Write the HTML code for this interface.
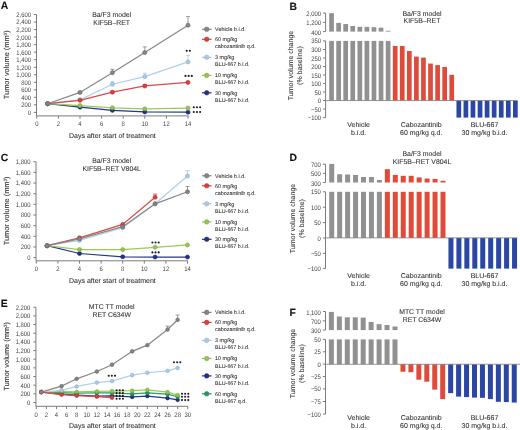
<!DOCTYPE html>
<html><head><meta charset="utf-8"><style>
html,body{margin:0;padding:0;background:#fff;}
svg{display:block;filter:blur(0.35px);}
text{font-family:"Liberation Sans", sans-serif;text-rendering:geometricPrecision;}
</style></head><body>
<svg width="520" height="430" viewBox="0 0 520 430" font-family='"Liberation Sans", sans-serif'>
<rect width="520" height="430" fill="#fff"/>
<line x1="36.50" y1="14.51" x2="36.50" y2="115.90" stroke="#7c7c7c" stroke-width="1.0"/>
<line x1="33.90" y1="112.40" x2="36.50" y2="112.40" stroke="#7c7c7c" stroke-width="1.0"/>
<text transform="translate(31.00,114.80) scale(1,1.12)" font-size="5.9" text-anchor="end" fill="#444444">0</text>
<line x1="33.90" y1="104.87" x2="36.50" y2="104.87" stroke="#7c7c7c" stroke-width="1.0"/>
<text transform="translate(31.00,107.27) scale(1,1.12)" font-size="5.9" text-anchor="end" fill="#444444">200</text>
<line x1="33.90" y1="97.34" x2="36.50" y2="97.34" stroke="#7c7c7c" stroke-width="1.0"/>
<text transform="translate(31.00,99.74) scale(1,1.12)" font-size="5.9" text-anchor="end" fill="#444444">400</text>
<line x1="33.90" y1="89.81" x2="36.50" y2="89.81" stroke="#7c7c7c" stroke-width="1.0"/>
<text transform="translate(31.00,92.21) scale(1,1.12)" font-size="5.9" text-anchor="end" fill="#444444">600</text>
<line x1="33.90" y1="82.28" x2="36.50" y2="82.28" stroke="#7c7c7c" stroke-width="1.0"/>
<text transform="translate(31.00,84.68) scale(1,1.12)" font-size="5.9" text-anchor="end" fill="#444444">800</text>
<line x1="33.90" y1="74.75" x2="36.50" y2="74.75" stroke="#7c7c7c" stroke-width="1.0"/>
<text transform="translate(31.00,77.15) scale(1,1.12)" font-size="5.9" text-anchor="end" fill="#444444">1,000</text>
<line x1="33.90" y1="67.22" x2="36.50" y2="67.22" stroke="#7c7c7c" stroke-width="1.0"/>
<text transform="translate(31.00,69.62) scale(1,1.12)" font-size="5.9" text-anchor="end" fill="#444444">1,200</text>
<line x1="33.90" y1="59.69" x2="36.50" y2="59.69" stroke="#7c7c7c" stroke-width="1.0"/>
<text transform="translate(31.00,62.09) scale(1,1.12)" font-size="5.9" text-anchor="end" fill="#444444">1,400</text>
<line x1="33.90" y1="52.16" x2="36.50" y2="52.16" stroke="#7c7c7c" stroke-width="1.0"/>
<text transform="translate(31.00,54.56) scale(1,1.12)" font-size="5.9" text-anchor="end" fill="#444444">1,600</text>
<line x1="33.90" y1="44.63" x2="36.50" y2="44.63" stroke="#7c7c7c" stroke-width="1.0"/>
<text transform="translate(31.00,47.03) scale(1,1.12)" font-size="5.9" text-anchor="end" fill="#444444">1,800</text>
<line x1="33.90" y1="37.10" x2="36.50" y2="37.10" stroke="#7c7c7c" stroke-width="1.0"/>
<text transform="translate(31.00,39.50) scale(1,1.12)" font-size="5.9" text-anchor="end" fill="#444444">2,000</text>
<line x1="33.90" y1="29.57" x2="36.50" y2="29.57" stroke="#7c7c7c" stroke-width="1.0"/>
<text transform="translate(31.00,31.97) scale(1,1.12)" font-size="5.9" text-anchor="end" fill="#444444">2,200</text>
<line x1="33.90" y1="22.04" x2="36.50" y2="22.04" stroke="#7c7c7c" stroke-width="1.0"/>
<text transform="translate(31.00,24.44) scale(1,1.12)" font-size="5.9" text-anchor="end" fill="#444444">2,400</text>
<line x1="33.90" y1="14.51" x2="36.50" y2="14.51" stroke="#7c7c7c" stroke-width="1.0"/>
<text transform="translate(31.00,16.91) scale(1,1.12)" font-size="5.9" text-anchor="end" fill="#444444">2,600</text>
<line x1="36.50" y1="115.90" x2="188.50" y2="115.90" stroke="#7c7c7c" stroke-width="1.0"/>
<line x1="36.80" y1="115.90" x2="36.80" y2="118.70" stroke="#7c7c7c" stroke-width="1.0"/>
<text transform="translate(36.80,126.30) scale(1,1.12)" font-size="5.9" text-anchor="middle" fill="#444444">0</text>
<line x1="58.40" y1="115.90" x2="58.40" y2="118.70" stroke="#7c7c7c" stroke-width="1.0"/>
<text transform="translate(58.40,126.30) scale(1,1.12)" font-size="5.9" text-anchor="middle" fill="#444444">2</text>
<line x1="80.00" y1="115.90" x2="80.00" y2="118.70" stroke="#7c7c7c" stroke-width="1.0"/>
<text transform="translate(80.00,126.30) scale(1,1.12)" font-size="5.9" text-anchor="middle" fill="#444444">4</text>
<line x1="101.60" y1="115.90" x2="101.60" y2="118.70" stroke="#7c7c7c" stroke-width="1.0"/>
<text transform="translate(101.60,126.30) scale(1,1.12)" font-size="5.9" text-anchor="middle" fill="#444444">6</text>
<line x1="123.20" y1="115.90" x2="123.20" y2="118.70" stroke="#7c7c7c" stroke-width="1.0"/>
<text transform="translate(123.20,126.30) scale(1,1.12)" font-size="5.9" text-anchor="middle" fill="#444444">8</text>
<line x1="144.80" y1="115.90" x2="144.80" y2="118.70" stroke="#7c7c7c" stroke-width="1.0"/>
<text transform="translate(144.80,126.30) scale(1,1.12)" font-size="5.9" text-anchor="middle" fill="#444444">10</text>
<line x1="166.40" y1="115.90" x2="166.40" y2="118.70" stroke="#7c7c7c" stroke-width="1.0"/>
<text transform="translate(166.40,126.30) scale(1,1.12)" font-size="5.9" text-anchor="middle" fill="#444444">12</text>
<line x1="188.00" y1="115.90" x2="188.00" y2="118.70" stroke="#7c7c7c" stroke-width="1.0"/>
<text transform="translate(188.00,126.30) scale(1,1.12)" font-size="5.9" text-anchor="middle" fill="#444444">14</text>
<text x="112.40" y="137.60" font-size="7" text-anchor="middle" font-weight="normal" fill="#333333" stroke="#333333" stroke-width="0.08" >Days after start of treatment</text>
<text transform="translate(9.40,64.81) rotate(-90)" font-size="7.4" text-anchor="middle" fill="#333333" stroke="#333333" stroke-width="0.08">Tumor volume (mm<tspan font-size="4.6" dy="-2.6">3</tspan><tspan dy="2.6">)</tspan></text>
<text x="0.80" y="9.20" font-size="10.4" text-anchor="start" font-weight="bold" fill="#111" stroke="#111" stroke-width="0.08" >A</text>
<text x="111.70" y="17.20" font-size="6.9" text-anchor="middle" font-weight="normal" fill="#333333" stroke="#333333" stroke-width="0.08" >Ba/F3 model</text>
<text x="111.70" y="24.70" font-size="6.9" text-anchor="middle" font-weight="normal" fill="#333333" stroke="#333333" stroke-width="0.08" >KIF5B–RET</text>
<polyline points="47.60,103.74 80.00,107.17 112.40,110.33 144.80,111.95 188.00,112.21" fill="none" stroke="#263690" stroke-width="1.25"/>
<circle cx="47.60" cy="103.74" r="2.05" fill="#22318a" stroke="#1a2670" stroke-width="0.6"/>
<circle cx="80.00" cy="107.17" r="2.05" fill="#22318a" stroke="#1a2670" stroke-width="0.6"/>
<circle cx="112.40" cy="110.33" r="2.05" fill="#22318a" stroke="#1a2670" stroke-width="0.6"/>
<circle cx="144.80" cy="111.95" r="2.05" fill="#22318a" stroke="#1a2670" stroke-width="0.6"/>
<circle cx="188.00" cy="112.21" r="2.05" fill="#22318a" stroke="#1a2670" stroke-width="0.6"/>
<polyline points="47.60,103.74 80.00,105.59 112.40,107.77 144.80,108.82 188.00,108.07" fill="none" stroke="#9acb55" stroke-width="1.25"/>
<circle cx="47.60" cy="103.74" r="2.05" fill="#95c453" stroke="#7aa840" stroke-width="0.6"/>
<circle cx="80.00" cy="105.59" r="2.05" fill="#95c453" stroke="#7aa840" stroke-width="0.6"/>
<circle cx="112.40" cy="107.77" r="2.05" fill="#95c453" stroke="#7aa840" stroke-width="0.6"/>
<circle cx="144.80" cy="108.82" r="2.05" fill="#95c453" stroke="#7aa840" stroke-width="0.6"/>
<circle cx="188.00" cy="108.07" r="2.05" fill="#95c453" stroke="#7aa840" stroke-width="0.6"/>
<polyline points="47.60,103.74 80.00,99.79 112.40,84.24 144.80,76.63 188.00,61.95" fill="none" stroke="#b2cfea" stroke-width="1.25"/>
<line x1="112.40" y1="84.24" x2="112.40" y2="81.60" stroke="#a9c8e6" stroke-width="0.8"/>
<line x1="110.40" y1="81.60" x2="114.40" y2="81.60" stroke="#a9c8e6" stroke-width="0.8"/>
<line x1="144.80" y1="76.63" x2="144.80" y2="73.24" stroke="#a9c8e6" stroke-width="0.8"/>
<line x1="142.80" y1="73.24" x2="146.80" y2="73.24" stroke="#a9c8e6" stroke-width="0.8"/>
<line x1="188.00" y1="61.95" x2="188.00" y2="55.55" stroke="#a9c8e6" stroke-width="0.8"/>
<line x1="186.00" y1="55.55" x2="190.00" y2="55.55" stroke="#a9c8e6" stroke-width="0.8"/>
<circle cx="47.60" cy="103.74" r="2.05" fill="#a9c8e6" stroke="#8fb0d0" stroke-width="0.6"/>
<circle cx="80.00" cy="99.79" r="2.05" fill="#a9c8e6" stroke="#8fb0d0" stroke-width="0.6"/>
<circle cx="112.40" cy="84.24" r="2.05" fill="#a9c8e6" stroke="#8fb0d0" stroke-width="0.6"/>
<circle cx="144.80" cy="76.63" r="2.05" fill="#a9c8e6" stroke="#8fb0d0" stroke-width="0.6"/>
<circle cx="188.00" cy="61.95" r="2.05" fill="#a9c8e6" stroke="#8fb0d0" stroke-width="0.6"/>
<polyline points="47.60,103.74 80.00,100.28 112.40,92.22 144.80,85.97 188.00,82.47" fill="none" stroke="#dc4a45" stroke-width="1.25"/>
<line x1="112.40" y1="92.22" x2="112.40" y2="91.09" stroke="#d8403a" stroke-width="0.8"/>
<line x1="110.40" y1="91.09" x2="114.40" y2="91.09" stroke="#d8403a" stroke-width="0.8"/>
<line x1="144.80" y1="85.97" x2="144.80" y2="84.46" stroke="#d8403a" stroke-width="0.8"/>
<line x1="142.80" y1="84.46" x2="146.80" y2="84.46" stroke="#d8403a" stroke-width="0.8"/>
<line x1="188.00" y1="82.47" x2="188.00" y2="81.34" stroke="#d8403a" stroke-width="0.8"/>
<line x1="186.00" y1="81.34" x2="190.00" y2="81.34" stroke="#d8403a" stroke-width="0.8"/>
<circle cx="47.60" cy="103.74" r="2.05" fill="#d8403a" stroke="#b83030" stroke-width="0.6"/>
<circle cx="80.00" cy="100.28" r="2.05" fill="#d8403a" stroke="#b83030" stroke-width="0.6"/>
<circle cx="112.40" cy="92.22" r="2.05" fill="#d8403a" stroke="#b83030" stroke-width="0.6"/>
<circle cx="144.80" cy="85.97" r="2.05" fill="#d8403a" stroke="#b83030" stroke-width="0.6"/>
<circle cx="188.00" cy="82.47" r="2.05" fill="#d8403a" stroke="#b83030" stroke-width="0.6"/>
<polyline points="47.60,103.74 80.00,92.45 112.40,72.68 144.80,52.54 188.00,25.24" fill="none" stroke="#888888" stroke-width="1.25"/>
<line x1="80.00" y1="92.45" x2="80.00" y2="91.32" stroke="#858585" stroke-width="0.8"/>
<line x1="78.00" y1="91.32" x2="82.00" y2="91.32" stroke="#858585" stroke-width="0.8"/>
<line x1="112.40" y1="72.68" x2="112.40" y2="69.29" stroke="#858585" stroke-width="0.8"/>
<line x1="110.40" y1="69.29" x2="114.40" y2="69.29" stroke="#858585" stroke-width="0.8"/>
<line x1="144.80" y1="52.54" x2="144.80" y2="46.89" stroke="#858585" stroke-width="0.8"/>
<line x1="142.80" y1="46.89" x2="146.80" y2="46.89" stroke="#858585" stroke-width="0.8"/>
<line x1="188.00" y1="25.24" x2="188.00" y2="16.58" stroke="#858585" stroke-width="0.8"/>
<line x1="186.00" y1="16.58" x2="190.00" y2="16.58" stroke="#858585" stroke-width="0.8"/>
<circle cx="47.60" cy="103.74" r="2.05" fill="#858585" stroke="#666666" stroke-width="0.6"/>
<circle cx="80.00" cy="92.45" r="2.05" fill="#858585" stroke="#666666" stroke-width="0.6"/>
<circle cx="112.40" cy="72.68" r="2.05" fill="#858585" stroke="#666666" stroke-width="0.6"/>
<circle cx="144.80" cy="52.54" r="2.05" fill="#858585" stroke="#666666" stroke-width="0.6"/>
<circle cx="188.00" cy="25.24" r="2.05" fill="#858585" stroke="#666666" stroke-width="0.6"/>
<line x1="201.90" y1="29.30" x2="211.60" y2="29.30" stroke="#858585" stroke-width="1.2"/>
<circle cx="206.7" cy="29.30" r="2.3" fill="#858585" stroke="#666666" stroke-width="0.5"/>
<text x="215.10" y="31.10" font-size="5.4" text-anchor="start" font-weight="normal" fill="#333333" stroke="#333333" stroke-width="0.08" >Vehicle b.i.d.</text>
<line x1="201.90" y1="39.30" x2="211.60" y2="39.30" stroke="#d8403a" stroke-width="1.2"/>
<circle cx="206.7" cy="39.30" r="2.3" fill="#d8403a" stroke="#b83030" stroke-width="0.5"/>
<text x="215.10" y="41.10" font-size="5.4" text-anchor="start" font-weight="normal" fill="#333333" stroke="#333333" stroke-width="0.08" >60 mg/kg</text>
<text x="215.10" y="48.30" font-size="5.4" text-anchor="start" font-weight="normal" fill="#333333" stroke="#333333" stroke-width="0.08" >cabozantinib q.d.</text>
<line x1="201.90" y1="57.30" x2="211.60" y2="57.30" stroke="#a9c8e6" stroke-width="1.2"/>
<circle cx="206.7" cy="57.30" r="2.3" fill="#a9c8e6" stroke="#8fb0d0" stroke-width="0.5"/>
<text x="215.10" y="59.10" font-size="5.4" text-anchor="start" font-weight="normal" fill="#333333" stroke="#333333" stroke-width="0.08" >3 mg/kg</text>
<text x="215.10" y="66.30" font-size="5.4" text-anchor="start" font-weight="normal" fill="#333333" stroke="#333333" stroke-width="0.08" >BLU-667 b.i.d.</text>
<line x1="201.90" y1="75.40" x2="211.60" y2="75.40" stroke="#95c453" stroke-width="1.2"/>
<circle cx="206.7" cy="75.40" r="2.3" fill="#95c453" stroke="#7aa840" stroke-width="0.5"/>
<text x="215.10" y="77.20" font-size="5.4" text-anchor="start" font-weight="normal" fill="#333333" stroke="#333333" stroke-width="0.08" >10 mg/kg</text>
<text x="215.10" y="84.40" font-size="5.4" text-anchor="start" font-weight="normal" fill="#333333" stroke="#333333" stroke-width="0.08" >BLU-667 b.i.d.</text>
<line x1="201.90" y1="92.80" x2="211.60" y2="92.80" stroke="#22318a" stroke-width="1.2"/>
<circle cx="206.7" cy="92.80" r="2.3" fill="#22318a" stroke="#1a2670" stroke-width="0.5"/>
<text x="215.10" y="94.60" font-size="5.4" text-anchor="start" font-weight="normal" fill="#333333" stroke="#333333" stroke-width="0.08" >30 mg/kg</text>
<text x="215.10" y="101.80" font-size="5.4" text-anchor="start" font-weight="normal" fill="#333333" stroke="#333333" stroke-width="0.08" >BLU-667 b.i.d.</text>
<circle cx="186.70" cy="50.80" r="1.05" fill="#1a1a1a"/>
<circle cx="189.85" cy="50.80" r="1.05" fill="#1a1a1a"/>
<circle cx="185.50" cy="75.90" r="1.05" fill="#1a1a1a"/>
<circle cx="188.65" cy="75.90" r="1.05" fill="#1a1a1a"/>
<circle cx="191.80" cy="75.90" r="1.05" fill="#1a1a1a"/>
<circle cx="193.80" cy="107.30" r="1.05" fill="#1a1a1a"/>
<circle cx="196.95" cy="107.30" r="1.05" fill="#1a1a1a"/>
<circle cx="200.10" cy="107.30" r="1.05" fill="#1a1a1a"/>
<circle cx="193.80" cy="112.00" r="1.05" fill="#1a1a1a"/>
<circle cx="196.95" cy="112.00" r="1.05" fill="#1a1a1a"/>
<circle cx="200.10" cy="112.00" r="1.05" fill="#1a1a1a"/>
<line x1="36.00" y1="161.75" x2="36.00" y2="260.80" stroke="#7c7c7c" stroke-width="1.0"/>
<line x1="33.40" y1="257.60" x2="36.00" y2="257.60" stroke="#7c7c7c" stroke-width="1.0"/>
<text transform="translate(30.50,260.00) scale(1,1.12)" font-size="5.9" text-anchor="end" fill="#444444">0</text>
<line x1="33.40" y1="246.95" x2="36.00" y2="246.95" stroke="#7c7c7c" stroke-width="1.0"/>
<text transform="translate(30.50,249.35) scale(1,1.12)" font-size="5.9" text-anchor="end" fill="#444444">200</text>
<line x1="33.40" y1="236.30" x2="36.00" y2="236.30" stroke="#7c7c7c" stroke-width="1.0"/>
<text transform="translate(30.50,238.70) scale(1,1.12)" font-size="5.9" text-anchor="end" fill="#444444">400</text>
<line x1="33.40" y1="225.65" x2="36.00" y2="225.65" stroke="#7c7c7c" stroke-width="1.0"/>
<text transform="translate(30.50,228.05) scale(1,1.12)" font-size="5.9" text-anchor="end" fill="#444444">600</text>
<line x1="33.40" y1="215.00" x2="36.00" y2="215.00" stroke="#7c7c7c" stroke-width="1.0"/>
<text transform="translate(30.50,217.40) scale(1,1.12)" font-size="5.9" text-anchor="end" fill="#444444">800</text>
<line x1="33.40" y1="204.35" x2="36.00" y2="204.35" stroke="#7c7c7c" stroke-width="1.0"/>
<text transform="translate(30.50,206.75) scale(1,1.12)" font-size="5.9" text-anchor="end" fill="#444444">1,000</text>
<line x1="33.40" y1="193.70" x2="36.00" y2="193.70" stroke="#7c7c7c" stroke-width="1.0"/>
<text transform="translate(30.50,196.10) scale(1,1.12)" font-size="5.9" text-anchor="end" fill="#444444">1,200</text>
<line x1="33.40" y1="183.05" x2="36.00" y2="183.05" stroke="#7c7c7c" stroke-width="1.0"/>
<text transform="translate(30.50,185.45) scale(1,1.12)" font-size="5.9" text-anchor="end" fill="#444444">1,400</text>
<line x1="33.40" y1="172.40" x2="36.00" y2="172.40" stroke="#7c7c7c" stroke-width="1.0"/>
<text transform="translate(30.50,174.80) scale(1,1.12)" font-size="5.9" text-anchor="end" fill="#444444">1,600</text>
<line x1="33.40" y1="161.75" x2="36.00" y2="161.75" stroke="#7c7c7c" stroke-width="1.0"/>
<text transform="translate(30.50,164.15) scale(1,1.12)" font-size="5.9" text-anchor="end" fill="#444444">1,800</text>
<line x1="36.00" y1="260.80" x2="188.00" y2="260.80" stroke="#7c7c7c" stroke-width="1.0"/>
<line x1="36.30" y1="260.80" x2="36.30" y2="263.60" stroke="#7c7c7c" stroke-width="1.0"/>
<text transform="translate(36.30,270.90) scale(1,1.12)" font-size="5.9" text-anchor="middle" fill="#444444">0</text>
<line x1="57.90" y1="260.80" x2="57.90" y2="263.60" stroke="#7c7c7c" stroke-width="1.0"/>
<text transform="translate(57.90,270.90) scale(1,1.12)" font-size="5.9" text-anchor="middle" fill="#444444">2</text>
<line x1="79.50" y1="260.80" x2="79.50" y2="263.60" stroke="#7c7c7c" stroke-width="1.0"/>
<text transform="translate(79.50,270.90) scale(1,1.12)" font-size="5.9" text-anchor="middle" fill="#444444">4</text>
<line x1="101.10" y1="260.80" x2="101.10" y2="263.60" stroke="#7c7c7c" stroke-width="1.0"/>
<text transform="translate(101.10,270.90) scale(1,1.12)" font-size="5.9" text-anchor="middle" fill="#444444">6</text>
<line x1="122.70" y1="260.80" x2="122.70" y2="263.60" stroke="#7c7c7c" stroke-width="1.0"/>
<text transform="translate(122.70,270.90) scale(1,1.12)" font-size="5.9" text-anchor="middle" fill="#444444">8</text>
<line x1="144.30" y1="260.80" x2="144.30" y2="263.60" stroke="#7c7c7c" stroke-width="1.0"/>
<text transform="translate(144.30,270.90) scale(1,1.12)" font-size="5.9" text-anchor="middle" fill="#444444">10</text>
<line x1="165.90" y1="260.80" x2="165.90" y2="263.60" stroke="#7c7c7c" stroke-width="1.0"/>
<text transform="translate(165.90,270.90) scale(1,1.12)" font-size="5.9" text-anchor="middle" fill="#444444">12</text>
<line x1="187.50" y1="260.80" x2="187.50" y2="263.60" stroke="#7c7c7c" stroke-width="1.0"/>
<text transform="translate(187.50,270.90) scale(1,1.12)" font-size="5.9" text-anchor="middle" fill="#444444">14</text>
<text x="112.40" y="283.00" font-size="7" text-anchor="middle" font-weight="normal" fill="#333333" stroke="#333333" stroke-width="0.08" >Days after start of treatment</text>
<text transform="translate(9.40,210.88) rotate(-90)" font-size="7.4" text-anchor="middle" fill="#333333" stroke="#333333" stroke-width="0.08">Tumor volume (mm<tspan font-size="4.6" dy="-2.6">3</tspan><tspan dy="2.6">)</tspan></text>
<text x="0.80" y="161.20" font-size="10.4" text-anchor="start" font-weight="bold" fill="#111" stroke="#111" stroke-width="0.08" >C</text>
<text x="111.70" y="163.20" font-size="6.9" text-anchor="middle" font-weight="normal" fill="#333333" stroke="#333333" stroke-width="0.08" >Ba/F3 model</text>
<text x="111.70" y="171.00" font-size="6.9" text-anchor="middle" font-weight="normal" fill="#333333" stroke="#333333" stroke-width="0.08" >KIF5B–RET V804L</text>
<polyline points="47.10,245.73 79.50,253.50 122.70,256.80 155.10,257.07 187.50,257.07" fill="none" stroke="#263690" stroke-width="1.25"/>
<circle cx="47.10" cy="245.73" r="2.05" fill="#22318a" stroke="#1a2670" stroke-width="0.6"/>
<circle cx="79.50" cy="253.50" r="2.05" fill="#22318a" stroke="#1a2670" stroke-width="0.6"/>
<circle cx="122.70" cy="256.80" r="2.05" fill="#22318a" stroke="#1a2670" stroke-width="0.6"/>
<circle cx="155.10" cy="257.07" r="2.05" fill="#22318a" stroke="#1a2670" stroke-width="0.6"/>
<circle cx="187.50" cy="257.07" r="2.05" fill="#22318a" stroke="#1a2670" stroke-width="0.6"/>
<polyline points="47.10,245.73 79.50,249.61 122.70,249.61 155.10,247.32 187.50,244.98" fill="none" stroke="#9acb55" stroke-width="1.25"/>
<circle cx="47.10" cy="245.73" r="2.05" fill="#95c453" stroke="#7aa840" stroke-width="0.6"/>
<circle cx="79.50" cy="249.61" r="2.05" fill="#95c453" stroke="#7aa840" stroke-width="0.6"/>
<circle cx="122.70" cy="249.61" r="2.05" fill="#95c453" stroke="#7aa840" stroke-width="0.6"/>
<circle cx="155.10" cy="247.32" r="2.05" fill="#95c453" stroke="#7aa840" stroke-width="0.6"/>
<circle cx="187.50" cy="244.98" r="2.05" fill="#95c453" stroke="#7aa840" stroke-width="0.6"/>
<polyline points="47.10,245.73 79.50,240.40 122.70,227.73 155.10,203.82 187.50,176.02" fill="none" stroke="#b2cfea" stroke-width="1.25"/>
<line x1="187.50" y1="176.02" x2="187.50" y2="170.70" stroke="#a9c8e6" stroke-width="0.8"/>
<line x1="185.50" y1="170.70" x2="189.50" y2="170.70" stroke="#a9c8e6" stroke-width="0.8"/>
<circle cx="47.10" cy="245.73" r="2.05" fill="#a9c8e6" stroke="#8fb0d0" stroke-width="0.6"/>
<circle cx="79.50" cy="240.40" r="2.05" fill="#a9c8e6" stroke="#8fb0d0" stroke-width="0.6"/>
<circle cx="122.70" cy="227.73" r="2.05" fill="#a9c8e6" stroke="#8fb0d0" stroke-width="0.6"/>
<circle cx="155.10" cy="203.82" r="2.05" fill="#a9c8e6" stroke="#8fb0d0" stroke-width="0.6"/>
<circle cx="187.50" cy="176.02" r="2.05" fill="#a9c8e6" stroke="#8fb0d0" stroke-width="0.6"/>
<polyline points="47.10,245.73 79.50,237.79 122.70,224.43 155.10,197.32" fill="none" stroke="#dc4a45" stroke-width="1.25"/>
<line x1="155.10" y1="197.32" x2="155.10" y2="194.13" stroke="#d8403a" stroke-width="0.8"/>
<line x1="153.10" y1="194.13" x2="157.10" y2="194.13" stroke="#d8403a" stroke-width="0.8"/>
<circle cx="47.10" cy="245.73" r="2.05" fill="#d8403a" stroke="#b83030" stroke-width="0.6"/>
<circle cx="79.50" cy="237.79" r="2.05" fill="#d8403a" stroke="#b83030" stroke-width="0.6"/>
<circle cx="122.70" cy="224.43" r="2.05" fill="#d8403a" stroke="#b83030" stroke-width="0.6"/>
<circle cx="155.10" cy="197.32" r="2.05" fill="#d8403a" stroke="#b83030" stroke-width="0.6"/>
<polyline points="47.10,245.73 79.50,238.80 122.70,226.72 155.10,203.82 187.50,191.78" fill="none" stroke="#888888" stroke-width="1.25"/>
<line x1="187.50" y1="191.78" x2="187.50" y2="186.46" stroke="#858585" stroke-width="0.8"/>
<line x1="185.50" y1="186.46" x2="189.50" y2="186.46" stroke="#858585" stroke-width="0.8"/>
<circle cx="47.10" cy="245.73" r="2.05" fill="#858585" stroke="#666666" stroke-width="0.6"/>
<circle cx="79.50" cy="238.80" r="2.05" fill="#858585" stroke="#666666" stroke-width="0.6"/>
<circle cx="122.70" cy="226.72" r="2.05" fill="#858585" stroke="#666666" stroke-width="0.6"/>
<circle cx="155.10" cy="203.82" r="2.05" fill="#858585" stroke="#666666" stroke-width="0.6"/>
<circle cx="187.50" cy="191.78" r="2.05" fill="#858585" stroke="#666666" stroke-width="0.6"/>
<line x1="201.90" y1="175.80" x2="211.60" y2="175.80" stroke="#858585" stroke-width="1.2"/>
<circle cx="206.7" cy="175.80" r="2.3" fill="#858585" stroke="#666666" stroke-width="0.5"/>
<text x="215.10" y="177.60" font-size="5.4" text-anchor="start" font-weight="normal" fill="#333333" stroke="#333333" stroke-width="0.08" >Vehicle b.i.d.</text>
<line x1="201.90" y1="185.80" x2="211.60" y2="185.80" stroke="#d8403a" stroke-width="1.2"/>
<circle cx="206.7" cy="185.80" r="2.3" fill="#d8403a" stroke="#b83030" stroke-width="0.5"/>
<text x="215.10" y="187.60" font-size="5.4" text-anchor="start" font-weight="normal" fill="#333333" stroke="#333333" stroke-width="0.08" >60 mg/kg</text>
<text x="215.10" y="194.80" font-size="5.4" text-anchor="start" font-weight="normal" fill="#333333" stroke="#333333" stroke-width="0.08" >cabozantinib q.d.</text>
<line x1="201.90" y1="203.80" x2="211.60" y2="203.80" stroke="#a9c8e6" stroke-width="1.2"/>
<circle cx="206.7" cy="203.80" r="2.3" fill="#a9c8e6" stroke="#8fb0d0" stroke-width="0.5"/>
<text x="215.10" y="205.60" font-size="5.4" text-anchor="start" font-weight="normal" fill="#333333" stroke="#333333" stroke-width="0.08" >3 mg/kg</text>
<text x="215.10" y="212.80" font-size="5.4" text-anchor="start" font-weight="normal" fill="#333333" stroke="#333333" stroke-width="0.08" >BLU-667 b.i.d.</text>
<line x1="201.90" y1="221.90" x2="211.60" y2="221.90" stroke="#95c453" stroke-width="1.2"/>
<circle cx="206.7" cy="221.90" r="2.3" fill="#95c453" stroke="#7aa840" stroke-width="0.5"/>
<text x="215.10" y="223.70" font-size="5.4" text-anchor="start" font-weight="normal" fill="#333333" stroke="#333333" stroke-width="0.08" >10 mg/kg</text>
<text x="215.10" y="230.90" font-size="5.4" text-anchor="start" font-weight="normal" fill="#333333" stroke="#333333" stroke-width="0.08" >BLU-667 b.i.d.</text>
<line x1="201.90" y1="239.30" x2="211.60" y2="239.30" stroke="#22318a" stroke-width="1.2"/>
<circle cx="206.7" cy="239.30" r="2.3" fill="#22318a" stroke="#1a2670" stroke-width="0.5"/>
<text x="215.10" y="241.10" font-size="5.4" text-anchor="start" font-weight="normal" fill="#333333" stroke="#333333" stroke-width="0.08" >30 mg/kg</text>
<text x="215.10" y="248.30" font-size="5.4" text-anchor="start" font-weight="normal" fill="#333333" stroke="#333333" stroke-width="0.08" >BLU-667 b.i.d.</text>
<circle cx="152.40" cy="242.50" r="1.05" fill="#1a1a1a"/>
<circle cx="155.55" cy="242.50" r="1.05" fill="#1a1a1a"/>
<circle cx="158.70" cy="242.50" r="1.05" fill="#1a1a1a"/>
<circle cx="152.40" cy="252.40" r="1.05" fill="#1a1a1a"/>
<circle cx="155.55" cy="252.40" r="1.05" fill="#1a1a1a"/>
<circle cx="158.70" cy="252.40" r="1.05" fill="#1a1a1a"/>
<line x1="35.90" y1="307.24" x2="35.90" y2="406.30" stroke="#7c7c7c" stroke-width="1.0"/>
<line x1="33.30" y1="402.50" x2="35.90" y2="402.50" stroke="#7c7c7c" stroke-width="1.0"/>
<text transform="translate(30.40,404.90) scale(1,1.12)" font-size="5.9" text-anchor="end" fill="#444444">0</text>
<line x1="33.30" y1="393.84" x2="35.90" y2="393.84" stroke="#7c7c7c" stroke-width="1.0"/>
<text transform="translate(30.40,396.24) scale(1,1.12)" font-size="5.9" text-anchor="end" fill="#444444">200</text>
<line x1="33.30" y1="385.18" x2="35.90" y2="385.18" stroke="#7c7c7c" stroke-width="1.0"/>
<text transform="translate(30.40,387.58) scale(1,1.12)" font-size="5.9" text-anchor="end" fill="#444444">400</text>
<line x1="33.30" y1="376.52" x2="35.90" y2="376.52" stroke="#7c7c7c" stroke-width="1.0"/>
<text transform="translate(30.40,378.92) scale(1,1.12)" font-size="5.9" text-anchor="end" fill="#444444">600</text>
<line x1="33.30" y1="367.86" x2="35.90" y2="367.86" stroke="#7c7c7c" stroke-width="1.0"/>
<text transform="translate(30.40,370.26) scale(1,1.12)" font-size="5.9" text-anchor="end" fill="#444444">800</text>
<line x1="33.30" y1="359.20" x2="35.90" y2="359.20" stroke="#7c7c7c" stroke-width="1.0"/>
<text transform="translate(30.40,361.60) scale(1,1.12)" font-size="5.9" text-anchor="end" fill="#444444">1,000</text>
<line x1="33.30" y1="350.54" x2="35.90" y2="350.54" stroke="#7c7c7c" stroke-width="1.0"/>
<text transform="translate(30.40,352.94) scale(1,1.12)" font-size="5.9" text-anchor="end" fill="#444444">1,200</text>
<line x1="33.30" y1="341.88" x2="35.90" y2="341.88" stroke="#7c7c7c" stroke-width="1.0"/>
<text transform="translate(30.40,344.28) scale(1,1.12)" font-size="5.9" text-anchor="end" fill="#444444">1,400</text>
<line x1="33.30" y1="333.22" x2="35.90" y2="333.22" stroke="#7c7c7c" stroke-width="1.0"/>
<text transform="translate(30.40,335.62) scale(1,1.12)" font-size="5.9" text-anchor="end" fill="#444444">1,600</text>
<line x1="33.30" y1="324.56" x2="35.90" y2="324.56" stroke="#7c7c7c" stroke-width="1.0"/>
<text transform="translate(30.40,326.96) scale(1,1.12)" font-size="5.9" text-anchor="end" fill="#444444">1,800</text>
<line x1="33.30" y1="315.90" x2="35.90" y2="315.90" stroke="#7c7c7c" stroke-width="1.0"/>
<text transform="translate(30.40,318.30) scale(1,1.12)" font-size="5.9" text-anchor="end" fill="#444444">2,000</text>
<line x1="33.30" y1="307.24" x2="35.90" y2="307.24" stroke="#7c7c7c" stroke-width="1.0"/>
<text transform="translate(30.40,309.64) scale(1,1.12)" font-size="5.9" text-anchor="end" fill="#444444">2,200</text>
<line x1="35.90" y1="406.30" x2="188.25" y2="406.30" stroke="#7c7c7c" stroke-width="1.0"/>
<line x1="36.25" y1="406.30" x2="36.25" y2="409.10" stroke="#7c7c7c" stroke-width="1.0"/>
<text transform="translate(36.25,417.30) scale(1,1.12)" font-size="5.9" text-anchor="middle" fill="#444444">0</text>
<line x1="46.35" y1="406.30" x2="46.35" y2="409.10" stroke="#7c7c7c" stroke-width="1.0"/>
<text transform="translate(46.35,417.30) scale(1,1.12)" font-size="5.9" text-anchor="middle" fill="#444444">2</text>
<line x1="56.45" y1="406.30" x2="56.45" y2="409.10" stroke="#7c7c7c" stroke-width="1.0"/>
<text transform="translate(56.45,417.30) scale(1,1.12)" font-size="5.9" text-anchor="middle" fill="#444444">4</text>
<line x1="66.55" y1="406.30" x2="66.55" y2="409.10" stroke="#7c7c7c" stroke-width="1.0"/>
<text transform="translate(66.55,417.30) scale(1,1.12)" font-size="5.9" text-anchor="middle" fill="#444444">6</text>
<line x1="76.65" y1="406.30" x2="76.65" y2="409.10" stroke="#7c7c7c" stroke-width="1.0"/>
<text transform="translate(76.65,417.30) scale(1,1.12)" font-size="5.9" text-anchor="middle" fill="#444444">8</text>
<line x1="86.75" y1="406.30" x2="86.75" y2="409.10" stroke="#7c7c7c" stroke-width="1.0"/>
<text transform="translate(86.75,417.30) scale(1,1.12)" font-size="5.9" text-anchor="middle" fill="#444444">10</text>
<line x1="96.85" y1="406.30" x2="96.85" y2="409.10" stroke="#7c7c7c" stroke-width="1.0"/>
<text transform="translate(96.85,417.30) scale(1,1.12)" font-size="5.9" text-anchor="middle" fill="#444444">12</text>
<line x1="106.95" y1="406.30" x2="106.95" y2="409.10" stroke="#7c7c7c" stroke-width="1.0"/>
<text transform="translate(106.95,417.30) scale(1,1.12)" font-size="5.9" text-anchor="middle" fill="#444444">14</text>
<line x1="117.05" y1="406.30" x2="117.05" y2="409.10" stroke="#7c7c7c" stroke-width="1.0"/>
<text transform="translate(117.05,417.30) scale(1,1.12)" font-size="5.9" text-anchor="middle" fill="#444444">16</text>
<line x1="127.15" y1="406.30" x2="127.15" y2="409.10" stroke="#7c7c7c" stroke-width="1.0"/>
<text transform="translate(127.15,417.30) scale(1,1.12)" font-size="5.9" text-anchor="middle" fill="#444444">18</text>
<line x1="137.25" y1="406.30" x2="137.25" y2="409.10" stroke="#7c7c7c" stroke-width="1.0"/>
<text transform="translate(137.25,417.30) scale(1,1.12)" font-size="5.9" text-anchor="middle" fill="#444444">20</text>
<line x1="147.35" y1="406.30" x2="147.35" y2="409.10" stroke="#7c7c7c" stroke-width="1.0"/>
<text transform="translate(147.35,417.30) scale(1,1.12)" font-size="5.9" text-anchor="middle" fill="#444444">22</text>
<line x1="157.45" y1="406.30" x2="157.45" y2="409.10" stroke="#7c7c7c" stroke-width="1.0"/>
<text transform="translate(157.45,417.30) scale(1,1.12)" font-size="5.9" text-anchor="middle" fill="#444444">24</text>
<line x1="167.55" y1="406.30" x2="167.55" y2="409.10" stroke="#7c7c7c" stroke-width="1.0"/>
<text transform="translate(167.55,417.30) scale(1,1.12)" font-size="5.9" text-anchor="middle" fill="#444444">26</text>
<line x1="177.65" y1="406.30" x2="177.65" y2="409.10" stroke="#7c7c7c" stroke-width="1.0"/>
<text transform="translate(177.65,417.30) scale(1,1.12)" font-size="5.9" text-anchor="middle" fill="#444444">28</text>
<line x1="187.75" y1="406.30" x2="187.75" y2="409.10" stroke="#7c7c7c" stroke-width="1.0"/>
<text transform="translate(187.75,417.30) scale(1,1.12)" font-size="5.9" text-anchor="middle" fill="#444444">30</text>
<text x="112.40" y="428.20" font-size="7" text-anchor="middle" font-weight="normal" fill="#333333" stroke="#333333" stroke-width="0.08" >Days after start of treatment</text>
<text transform="translate(9.40,356.37) rotate(-90)" font-size="7.4" text-anchor="middle" fill="#333333" stroke="#333333" stroke-width="0.08">Tumor volume (mm<tspan font-size="4.6" dy="-2.6">3</tspan><tspan dy="2.6">)</tspan></text>
<text x="0.80" y="306.80" font-size="10.4" text-anchor="start" font-weight="bold" fill="#111" stroke="#111" stroke-width="0.08" >E</text>
<text x="111.70" y="308.60" font-size="6.9" text-anchor="middle" font-weight="normal" fill="#333333" stroke="#333333" stroke-width="0.08" >MTC TT model</text>
<text x="111.70" y="316.60" font-size="6.9" text-anchor="middle" font-weight="normal" fill="#333333" stroke="#333333" stroke-width="0.08" >RET C634W</text>
<polyline points="41.30,392.06 61.50,394.06 76.65,395.14 96.85,396.22 112.00,396.00 132.20,396.91 147.35,396.05 167.55,398.13 177.65,399.82" fill="none" stroke="#263690" stroke-width="1.25"/>
<circle cx="41.30" cy="392.06" r="1.85" fill="#22318a" stroke="#1a2670" stroke-width="0.6"/>
<circle cx="61.50" cy="394.06" r="1.85" fill="#22318a" stroke="#1a2670" stroke-width="0.6"/>
<circle cx="76.65" cy="395.14" r="1.85" fill="#22318a" stroke="#1a2670" stroke-width="0.6"/>
<circle cx="96.85" cy="396.22" r="1.85" fill="#22318a" stroke="#1a2670" stroke-width="0.6"/>
<circle cx="112.00" cy="396.00" r="1.85" fill="#22318a" stroke="#1a2670" stroke-width="0.6"/>
<circle cx="132.20" cy="396.91" r="1.85" fill="#22318a" stroke="#1a2670" stroke-width="0.6"/>
<circle cx="147.35" cy="396.05" r="1.85" fill="#22318a" stroke="#1a2670" stroke-width="0.6"/>
<circle cx="167.55" cy="398.13" r="1.85" fill="#22318a" stroke="#1a2670" stroke-width="0.6"/>
<circle cx="177.65" cy="399.82" r="1.85" fill="#22318a" stroke="#1a2670" stroke-width="0.6"/>
<polyline points="41.30,392.06 61.50,392.54 76.65,393.19 96.85,392.76 112.00,392.93 132.20,393.75 147.35,392.93 167.55,394.14 177.65,396.74" fill="none" stroke="#26a060" stroke-width="1.25"/>
<circle cx="41.30" cy="392.06" r="1.85" fill="#1f9a5a" stroke="#17804a" stroke-width="0.6"/>
<circle cx="61.50" cy="392.54" r="1.85" fill="#1f9a5a" stroke="#17804a" stroke-width="0.6"/>
<circle cx="76.65" cy="393.19" r="1.85" fill="#1f9a5a" stroke="#17804a" stroke-width="0.6"/>
<circle cx="96.85" cy="392.76" r="1.85" fill="#1f9a5a" stroke="#17804a" stroke-width="0.6"/>
<circle cx="112.00" cy="392.93" r="1.85" fill="#1f9a5a" stroke="#17804a" stroke-width="0.6"/>
<circle cx="132.20" cy="393.75" r="1.85" fill="#1f9a5a" stroke="#17804a" stroke-width="0.6"/>
<circle cx="147.35" cy="392.93" r="1.85" fill="#1f9a5a" stroke="#17804a" stroke-width="0.6"/>
<circle cx="167.55" cy="394.14" r="1.85" fill="#1f9a5a" stroke="#17804a" stroke-width="0.6"/>
<circle cx="177.65" cy="396.74" r="1.85" fill="#1f9a5a" stroke="#17804a" stroke-width="0.6"/>
<polyline points="41.30,392.06 61.50,391.46 76.65,391.89 96.85,391.46 112.00,391.16 132.20,390.64 147.35,389.86 167.55,392.06 177.65,395.14" fill="none" stroke="#9acb55" stroke-width="1.25"/>
<circle cx="41.30" cy="392.06" r="1.85" fill="#95c453" stroke="#7aa840" stroke-width="0.6"/>
<circle cx="61.50" cy="391.46" r="1.85" fill="#95c453" stroke="#7aa840" stroke-width="0.6"/>
<circle cx="76.65" cy="391.89" r="1.85" fill="#95c453" stroke="#7aa840" stroke-width="0.6"/>
<circle cx="96.85" cy="391.46" r="1.85" fill="#95c453" stroke="#7aa840" stroke-width="0.6"/>
<circle cx="112.00" cy="391.16" r="1.85" fill="#95c453" stroke="#7aa840" stroke-width="0.6"/>
<circle cx="132.20" cy="390.64" r="1.85" fill="#95c453" stroke="#7aa840" stroke-width="0.6"/>
<circle cx="147.35" cy="389.86" r="1.85" fill="#95c453" stroke="#7aa840" stroke-width="0.6"/>
<circle cx="167.55" cy="392.06" r="1.85" fill="#95c453" stroke="#7aa840" stroke-width="0.6"/>
<circle cx="177.65" cy="395.14" r="1.85" fill="#95c453" stroke="#7aa840" stroke-width="0.6"/>
<polyline points="41.30,392.06 61.50,390.38 76.65,386.48 96.85,382.58 112.00,381.07 132.20,375.13 147.35,372.75 167.55,370.85 177.65,367.95" fill="none" stroke="#b2cfea" stroke-width="1.25"/>
<circle cx="41.30" cy="392.06" r="1.85" fill="#a9c8e6" stroke="#8fb0d0" stroke-width="0.6"/>
<circle cx="61.50" cy="390.38" r="1.85" fill="#a9c8e6" stroke="#8fb0d0" stroke-width="0.6"/>
<circle cx="76.65" cy="386.48" r="1.85" fill="#a9c8e6" stroke="#8fb0d0" stroke-width="0.6"/>
<circle cx="96.85" cy="382.58" r="1.85" fill="#a9c8e6" stroke="#8fb0d0" stroke-width="0.6"/>
<circle cx="112.00" cy="381.07" r="1.85" fill="#a9c8e6" stroke="#8fb0d0" stroke-width="0.6"/>
<circle cx="132.20" cy="375.13" r="1.85" fill="#a9c8e6" stroke="#8fb0d0" stroke-width="0.6"/>
<circle cx="147.35" cy="372.75" r="1.85" fill="#a9c8e6" stroke="#8fb0d0" stroke-width="0.6"/>
<circle cx="167.55" cy="370.85" r="1.85" fill="#a9c8e6" stroke="#8fb0d0" stroke-width="0.6"/>
<circle cx="177.65" cy="367.95" r="1.85" fill="#a9c8e6" stroke="#8fb0d0" stroke-width="0.6"/>
<polyline points="41.30,392.06 61.50,394.62 76.65,395.62 96.85,396.52 112.00,397.65" fill="none" stroke="#dc4a45" stroke-width="1.25"/>
<circle cx="41.30" cy="392.06" r="1.85" fill="#d8403a" stroke="#b83030" stroke-width="0.6"/>
<circle cx="61.50" cy="394.62" r="1.85" fill="#d8403a" stroke="#b83030" stroke-width="0.6"/>
<circle cx="76.65" cy="395.62" r="1.85" fill="#d8403a" stroke="#b83030" stroke-width="0.6"/>
<circle cx="96.85" cy="396.52" r="1.85" fill="#d8403a" stroke="#b83030" stroke-width="0.6"/>
<circle cx="112.00" cy="397.65" r="1.85" fill="#d8403a" stroke="#b83030" stroke-width="0.6"/>
<polyline points="41.30,392.06 61.50,386.18 76.65,378.81 96.85,371.54 112.00,364.70 132.20,351.32 147.35,345.17 167.55,329.54 177.65,319.80" fill="none" stroke="#888888" stroke-width="1.25"/>
<line x1="167.55" y1="329.54" x2="167.55" y2="326.08" stroke="#858585" stroke-width="0.8"/>
<line x1="165.55" y1="326.08" x2="169.55" y2="326.08" stroke="#858585" stroke-width="0.8"/>
<line x1="177.65" y1="319.80" x2="177.65" y2="315.03" stroke="#858585" stroke-width="0.8"/>
<line x1="175.65" y1="315.03" x2="179.65" y2="315.03" stroke="#858585" stroke-width="0.8"/>
<circle cx="41.30" cy="392.06" r="1.85" fill="#858585" stroke="#666666" stroke-width="0.6"/>
<circle cx="61.50" cy="386.18" r="1.85" fill="#858585" stroke="#666666" stroke-width="0.6"/>
<circle cx="76.65" cy="378.81" r="1.85" fill="#858585" stroke="#666666" stroke-width="0.6"/>
<circle cx="96.85" cy="371.54" r="1.85" fill="#858585" stroke="#666666" stroke-width="0.6"/>
<circle cx="112.00" cy="364.70" r="1.85" fill="#858585" stroke="#666666" stroke-width="0.6"/>
<circle cx="132.20" cy="351.32" r="1.85" fill="#858585" stroke="#666666" stroke-width="0.6"/>
<circle cx="147.35" cy="345.17" r="1.85" fill="#858585" stroke="#666666" stroke-width="0.6"/>
<circle cx="167.55" cy="329.54" r="1.85" fill="#858585" stroke="#666666" stroke-width="0.6"/>
<circle cx="177.65" cy="319.80" r="1.85" fill="#858585" stroke="#666666" stroke-width="0.6"/>
<line x1="201.90" y1="312.40" x2="211.60" y2="312.40" stroke="#858585" stroke-width="1.2"/>
<circle cx="206.7" cy="312.40" r="2.3" fill="#858585" stroke="#666666" stroke-width="0.5"/>
<text x="215.10" y="314.20" font-size="5.4" text-anchor="start" font-weight="normal" fill="#333333" stroke="#333333" stroke-width="0.08" >Vehicle b.i.d.</text>
<line x1="201.90" y1="322.40" x2="211.60" y2="322.40" stroke="#d8403a" stroke-width="1.2"/>
<circle cx="206.7" cy="322.40" r="2.3" fill="#d8403a" stroke="#b83030" stroke-width="0.5"/>
<text x="215.10" y="324.20" font-size="5.4" text-anchor="start" font-weight="normal" fill="#333333" stroke="#333333" stroke-width="0.08" >60 mg/kg</text>
<text x="215.10" y="331.40" font-size="5.4" text-anchor="start" font-weight="normal" fill="#333333" stroke="#333333" stroke-width="0.08" >cabozantinib q.d.</text>
<line x1="201.90" y1="340.40" x2="211.60" y2="340.40" stroke="#a9c8e6" stroke-width="1.2"/>
<circle cx="206.7" cy="340.40" r="2.3" fill="#a9c8e6" stroke="#8fb0d0" stroke-width="0.5"/>
<text x="215.10" y="342.20" font-size="5.4" text-anchor="start" font-weight="normal" fill="#333333" stroke="#333333" stroke-width="0.08" >3 mg/kg</text>
<text x="215.10" y="349.40" font-size="5.4" text-anchor="start" font-weight="normal" fill="#333333" stroke="#333333" stroke-width="0.08" >BLU-667 b.i.d.</text>
<line x1="201.90" y1="358.50" x2="211.60" y2="358.50" stroke="#95c453" stroke-width="1.2"/>
<circle cx="206.7" cy="358.50" r="2.3" fill="#95c453" stroke="#7aa840" stroke-width="0.5"/>
<text x="215.10" y="360.30" font-size="5.4" text-anchor="start" font-weight="normal" fill="#333333" stroke="#333333" stroke-width="0.08" >10 mg/kg</text>
<text x="215.10" y="367.50" font-size="5.4" text-anchor="start" font-weight="normal" fill="#333333" stroke="#333333" stroke-width="0.08" >BLU-667 b.i.d.</text>
<line x1="201.90" y1="375.90" x2="211.60" y2="375.90" stroke="#22318a" stroke-width="1.2"/>
<circle cx="206.7" cy="375.90" r="2.3" fill="#22318a" stroke="#1a2670" stroke-width="0.5"/>
<text x="215.10" y="377.70" font-size="5.4" text-anchor="start" font-weight="normal" fill="#333333" stroke="#333333" stroke-width="0.08" >30 mg/kg</text>
<text x="215.10" y="384.90" font-size="5.4" text-anchor="start" font-weight="normal" fill="#333333" stroke="#333333" stroke-width="0.08" >BLU-667 b.i.d.</text>
<line x1="201.90" y1="393.80" x2="211.60" y2="393.80" stroke="#1f9a5a" stroke-width="1.2"/>
<circle cx="206.7" cy="393.80" r="2.3" fill="#1f9a5a" stroke="#17804a" stroke-width="0.5"/>
<text x="215.10" y="395.60" font-size="5.4" text-anchor="start" font-weight="normal" fill="#333333" stroke="#333333" stroke-width="0.08" >60 mg/kg</text>
<text x="215.10" y="402.80" font-size="5.4" text-anchor="start" font-weight="normal" fill="#333333" stroke="#333333" stroke-width="0.08" >BLU-667 q.d.</text>
<circle cx="108.70" cy="375.70" r="1.05" fill="#1a1a1a"/>
<circle cx="111.85" cy="375.70" r="1.05" fill="#1a1a1a"/>
<circle cx="115.00" cy="375.70" r="1.05" fill="#1a1a1a"/>
<circle cx="174.00" cy="362.20" r="1.05" fill="#1a1a1a"/>
<circle cx="177.15" cy="362.20" r="1.05" fill="#1a1a1a"/>
<circle cx="180.30" cy="362.20" r="1.05" fill="#1a1a1a"/>
<circle cx="116.60" cy="390.30" r="1.05" fill="#1a1a1a"/>
<circle cx="119.75" cy="390.30" r="1.05" fill="#1a1a1a"/>
<circle cx="122.90" cy="390.30" r="1.05" fill="#1a1a1a"/>
<circle cx="116.60" cy="393.10" r="1.05" fill="#1a1a1a"/>
<circle cx="119.75" cy="393.10" r="1.05" fill="#1a1a1a"/>
<circle cx="122.90" cy="393.10" r="1.05" fill="#1a1a1a"/>
<circle cx="116.60" cy="395.90" r="1.05" fill="#1a1a1a"/>
<circle cx="119.75" cy="395.90" r="1.05" fill="#1a1a1a"/>
<circle cx="122.90" cy="395.90" r="1.05" fill="#1a1a1a"/>
<circle cx="116.60" cy="398.70" r="1.05" fill="#1a1a1a"/>
<circle cx="119.75" cy="398.70" r="1.05" fill="#1a1a1a"/>
<circle cx="122.90" cy="398.70" r="1.05" fill="#1a1a1a"/>
<circle cx="182.00" cy="393.70" r="1.05" fill="#1a1a1a"/>
<circle cx="185.15" cy="393.70" r="1.05" fill="#1a1a1a"/>
<circle cx="188.30" cy="393.70" r="1.05" fill="#1a1a1a"/>
<circle cx="182.00" cy="396.70" r="1.05" fill="#1a1a1a"/>
<circle cx="185.15" cy="396.70" r="1.05" fill="#1a1a1a"/>
<circle cx="188.30" cy="396.70" r="1.05" fill="#1a1a1a"/>
<circle cx="182.00" cy="400.10" r="1.05" fill="#1a1a1a"/>
<circle cx="185.15" cy="400.10" r="1.05" fill="#1a1a1a"/>
<circle cx="188.30" cy="400.10" r="1.05" fill="#1a1a1a"/>
<line x1="325.60" y1="13.00" x2="325.60" y2="31.60" stroke="#7c7c7c" stroke-width="1.0"/>
<line x1="323.00" y1="13.00" x2="325.60" y2="13.00" stroke="#7c7c7c" stroke-width="1.0"/>
<text transform="translate(321.00,16.00) scale(1,1.12)" font-size="5.9" text-anchor="end" fill="#444444">2,000</text>
<line x1="323.00" y1="22.40" x2="325.60" y2="22.40" stroke="#7c7c7c" stroke-width="1.0"/>
<text transform="translate(321.00,25.40) scale(1,1.12)" font-size="5.9" text-anchor="end" fill="#444444">1,200</text>
<line x1="323.00" y1="31.60" x2="325.60" y2="31.60" stroke="#7c7c7c" stroke-width="1.0"/>
<text transform="translate(321.00,34.60) scale(1,1.12)" font-size="5.9" text-anchor="end" fill="#444444">400</text>
<line x1="325.60" y1="40.90" x2="325.60" y2="117.60" stroke="#7c7c7c" stroke-width="1.0"/>
<line x1="323.00" y1="40.90" x2="325.60" y2="40.90" stroke="#7c7c7c" stroke-width="1.0"/>
<text transform="translate(321.00,43.40) scale(1,1.12)" font-size="5.9" text-anchor="end" fill="#444444">350</text>
<line x1="323.00" y1="49.50" x2="325.60" y2="49.50" stroke="#7c7c7c" stroke-width="1.0"/>
<text transform="translate(321.00,52.00) scale(1,1.12)" font-size="5.9" text-anchor="end" fill="#444444">300</text>
<line x1="323.00" y1="58.00" x2="325.60" y2="58.00" stroke="#7c7c7c" stroke-width="1.0"/>
<text transform="translate(321.00,60.50) scale(1,1.12)" font-size="5.9" text-anchor="end" fill="#444444">250</text>
<line x1="323.00" y1="66.50" x2="325.60" y2="66.50" stroke="#7c7c7c" stroke-width="1.0"/>
<text transform="translate(321.00,69.00) scale(1,1.12)" font-size="5.9" text-anchor="end" fill="#444444">200</text>
<line x1="323.00" y1="75.00" x2="325.60" y2="75.00" stroke="#7c7c7c" stroke-width="1.0"/>
<text transform="translate(321.00,77.50) scale(1,1.12)" font-size="5.9" text-anchor="end" fill="#444444">150</text>
<line x1="323.00" y1="83.50" x2="325.60" y2="83.50" stroke="#7c7c7c" stroke-width="1.0"/>
<text transform="translate(321.00,86.00) scale(1,1.12)" font-size="5.9" text-anchor="end" fill="#444444">100</text>
<line x1="323.00" y1="92.00" x2="325.60" y2="92.00" stroke="#7c7c7c" stroke-width="1.0"/>
<text transform="translate(321.00,94.50) scale(1,1.12)" font-size="5.9" text-anchor="end" fill="#444444">50</text>
<line x1="323.00" y1="100.50" x2="325.60" y2="100.50" stroke="#7c7c7c" stroke-width="1.0"/>
<text transform="translate(321.00,103.00) scale(1,1.12)" font-size="5.9" text-anchor="end" fill="#444444">0</text>
<line x1="323.00" y1="109.00" x2="325.60" y2="109.00" stroke="#7c7c7c" stroke-width="1.0"/>
<text transform="translate(321.00,111.50) scale(1,1.12)" font-size="5.9" text-anchor="end" fill="#444444">−50</text>
<line x1="323.00" y1="117.60" x2="325.60" y2="117.60" stroke="#7c7c7c" stroke-width="1.0"/>
<text transform="translate(321.00,120.10) scale(1,1.12)" font-size="5.9" text-anchor="end" fill="#444444">−100</text>
<rect x="329.20" y="40.90" width="4.70" height="59.66" fill="#919191"/>
<rect x="329.20" y="13.12" width="4.70" height="18.48" fill="#919191"/>
<rect x="336.27" y="40.90" width="4.70" height="59.66" fill="#919191"/>
<rect x="336.27" y="22.88" width="4.70" height="8.72" fill="#919191"/>
<rect x="343.34" y="40.90" width="4.70" height="59.66" fill="#919191"/>
<rect x="343.34" y="24.04" width="4.70" height="7.56" fill="#919191"/>
<rect x="350.41" y="40.90" width="4.70" height="59.66" fill="#919191"/>
<rect x="350.41" y="26.02" width="4.70" height="5.58" fill="#919191"/>
<rect x="357.48" y="40.90" width="4.70" height="59.66" fill="#919191"/>
<rect x="357.48" y="26.83" width="4.70" height="4.77" fill="#919191"/>
<rect x="364.55" y="40.90" width="4.70" height="59.66" fill="#919191"/>
<rect x="364.55" y="26.83" width="4.70" height="4.77" fill="#919191"/>
<rect x="371.62" y="40.90" width="4.70" height="59.66" fill="#919191"/>
<rect x="371.62" y="27.18" width="4.70" height="4.42" fill="#919191"/>
<rect x="378.69" y="40.90" width="4.70" height="59.66" fill="#919191"/>
<rect x="378.69" y="27.65" width="4.70" height="3.95" fill="#919191"/>
<rect x="385.76" y="40.90" width="4.70" height="59.66" fill="#919191"/>
<rect x="385.76" y="30.79" width="4.70" height="0.81" fill="#919191"/>
<rect x="392.83" y="46.01" width="4.70" height="54.54" fill="#df4b3b"/>
<rect x="399.90" y="46.01" width="4.70" height="54.54" fill="#df4b3b"/>
<rect x="406.97" y="50.96" width="4.70" height="49.60" fill="#df4b3b"/>
<rect x="414.04" y="56.58" width="4.70" height="43.97" fill="#df4b3b"/>
<rect x="421.11" y="57.60" width="4.70" height="42.95" fill="#df4b3b"/>
<rect x="428.18" y="63.57" width="4.70" height="36.99" fill="#df4b3b"/>
<rect x="435.25" y="65.10" width="4.70" height="35.45" fill="#df4b3b"/>
<rect x="442.32" y="66.98" width="4.70" height="33.58" fill="#df4b3b"/>
<rect x="449.39" y="74.82" width="4.70" height="25.74" fill="#df4b3b"/>
<rect x="456.46" y="100.56" width="4.70" height="17.04" fill="#2b47a3"/>
<rect x="463.53" y="100.56" width="4.70" height="17.04" fill="#2b47a3"/>
<rect x="470.60" y="100.56" width="4.70" height="17.04" fill="#2b47a3"/>
<rect x="477.67" y="100.56" width="4.70" height="17.04" fill="#2b47a3"/>
<rect x="484.74" y="100.56" width="4.70" height="17.04" fill="#2b47a3"/>
<rect x="491.81" y="100.56" width="4.70" height="17.04" fill="#2b47a3"/>
<rect x="498.88" y="100.56" width="4.70" height="17.04" fill="#2b47a3"/>
<rect x="505.95" y="100.56" width="4.70" height="17.04" fill="#2b47a3"/>
<rect x="513.02" y="100.56" width="4.70" height="17.04" fill="#2b47a3"/>
<line x1="325.60" y1="100.56" x2="517.50" y2="100.56" stroke="#7c7c7c" stroke-width="0.8"/>
<text transform="translate(293.20,65.50) rotate(-90)" font-size="7" text-anchor="middle" fill="#333333" stroke="#333333" stroke-width="0.08">Tumor volume change</text>
<text transform="translate(301.50,65.50) rotate(-90)" font-size="7" text-anchor="middle" fill="#333333" stroke="#333333" stroke-width="0.08">(% baseline)</text>
<text x="289.60" y="9.60" font-size="10.4" text-anchor="start" font-weight="bold" fill="#111" stroke="#111" stroke-width="0.08" >B</text>
<text x="422.00" y="15.50" font-size="6.9" text-anchor="middle" font-weight="normal" fill="#333333" stroke="#333333" stroke-width="0.08" >Ba/F3 model</text>
<text x="422.00" y="23.30" font-size="6.9" text-anchor="middle" font-weight="normal" fill="#333333" stroke="#333333" stroke-width="0.08" >KIF5B–RET</text>
<text x="358.60" y="126.70" font-size="7" text-anchor="middle" font-weight="normal" fill="#333333" stroke="#333333" stroke-width="0.08" >Vehicle</text>
<text x="358.60" y="134.70" font-size="7" text-anchor="middle" font-weight="normal" fill="#333333" stroke="#333333" stroke-width="0.08" >b.i.d.</text>
<text x="421.20" y="126.70" font-size="7" text-anchor="middle" font-weight="normal" fill="#333333" stroke="#333333" stroke-width="0.08" >Cabozantinib</text>
<text x="421.20" y="134.70" font-size="7" text-anchor="middle" font-weight="normal" fill="#333333" stroke="#333333" stroke-width="0.08" >60 mg/kg q.d.</text>
<text x="484.50" y="126.70" font-size="7" text-anchor="middle" font-weight="normal" fill="#333333" stroke="#333333" stroke-width="0.08" >BLU-667</text>
<text x="484.50" y="134.70" font-size="7" text-anchor="middle" font-weight="normal" fill="#333333" stroke="#333333" stroke-width="0.08" >30 mg/kg b.i.d.</text>
<line x1="325.50" y1="164.20" x2="325.50" y2="182.50" stroke="#7c7c7c" stroke-width="1.0"/>
<line x1="322.90" y1="164.20" x2="325.50" y2="164.20" stroke="#7c7c7c" stroke-width="1.0"/>
<text transform="translate(320.90,167.20) scale(1,1.12)" font-size="5.9" text-anchor="end" fill="#444444">700</text>
<line x1="322.90" y1="173.30" x2="325.50" y2="173.30" stroke="#7c7c7c" stroke-width="1.0"/>
<text transform="translate(320.90,176.30) scale(1,1.12)" font-size="5.9" text-anchor="end" fill="#444444">500</text>
<line x1="322.90" y1="182.50" x2="325.50" y2="182.50" stroke="#7c7c7c" stroke-width="1.0"/>
<text transform="translate(320.90,185.50) scale(1,1.12)" font-size="5.9" text-anchor="end" fill="#444444">300</text>
<line x1="325.50" y1="191.80" x2="325.50" y2="268.60" stroke="#7c7c7c" stroke-width="1.0"/>
<line x1="322.90" y1="191.80" x2="325.50" y2="191.80" stroke="#7c7c7c" stroke-width="1.0"/>
<text transform="translate(320.90,194.30) scale(1,1.12)" font-size="5.9" text-anchor="end" fill="#444444">150</text>
<line x1="322.90" y1="207.20" x2="325.50" y2="207.20" stroke="#7c7c7c" stroke-width="1.0"/>
<text transform="translate(320.90,209.70) scale(1,1.12)" font-size="5.9" text-anchor="end" fill="#444444">100</text>
<line x1="322.90" y1="222.60" x2="325.50" y2="222.60" stroke="#7c7c7c" stroke-width="1.0"/>
<text transform="translate(320.90,225.10) scale(1,1.12)" font-size="5.9" text-anchor="end" fill="#444444">50</text>
<line x1="322.90" y1="238.00" x2="325.50" y2="238.00" stroke="#7c7c7c" stroke-width="1.0"/>
<text transform="translate(320.90,240.50) scale(1,1.12)" font-size="5.9" text-anchor="end" fill="#444444">0</text>
<line x1="322.90" y1="253.40" x2="325.50" y2="253.40" stroke="#7c7c7c" stroke-width="1.0"/>
<text transform="translate(320.90,255.90) scale(1,1.12)" font-size="5.9" text-anchor="end" fill="#444444">−50</text>
<line x1="322.90" y1="268.60" x2="325.50" y2="268.60" stroke="#7c7c7c" stroke-width="1.0"/>
<text transform="translate(320.90,271.10) scale(1,1.12)" font-size="5.9" text-anchor="end" fill="#444444">−100</text>
<rect x="329.20" y="191.80" width="5.00" height="46.08" fill="#919191"/>
<rect x="329.20" y="163.93" width="5.00" height="18.57" fill="#919191"/>
<rect x="337.15" y="191.80" width="5.00" height="46.08" fill="#919191"/>
<rect x="337.15" y="174.22" width="5.00" height="8.28" fill="#919191"/>
<rect x="345.10" y="191.80" width="5.00" height="46.08" fill="#919191"/>
<rect x="345.10" y="174.49" width="5.00" height="8.01" fill="#919191"/>
<rect x="353.05" y="191.80" width="5.00" height="46.08" fill="#919191"/>
<rect x="353.05" y="175.00" width="5.00" height="7.50" fill="#919191"/>
<rect x="361.00" y="191.80" width="5.00" height="46.08" fill="#919191"/>
<rect x="361.00" y="177.01" width="5.00" height="5.49" fill="#919191"/>
<rect x="368.95" y="191.80" width="5.00" height="46.08" fill="#919191"/>
<rect x="368.95" y="177.01" width="5.00" height="5.49" fill="#919191"/>
<rect x="376.90" y="191.80" width="5.00" height="46.08" fill="#919191"/>
<rect x="376.90" y="179.98" width="5.00" height="2.52" fill="#919191"/>
<rect x="384.85" y="191.80" width="5.00" height="46.08" fill="#df4b3b"/>
<rect x="384.85" y="169.19" width="5.00" height="13.31" fill="#df4b3b"/>
<rect x="392.80" y="191.80" width="5.00" height="46.08" fill="#df4b3b"/>
<rect x="392.80" y="174.91" width="5.00" height="7.59" fill="#df4b3b"/>
<rect x="400.75" y="191.80" width="5.00" height="46.08" fill="#df4b3b"/>
<rect x="400.75" y="175.82" width="5.00" height="6.68" fill="#df4b3b"/>
<rect x="408.70" y="191.80" width="5.00" height="46.08" fill="#df4b3b"/>
<rect x="408.70" y="175.82" width="5.00" height="6.68" fill="#df4b3b"/>
<rect x="416.65" y="191.80" width="5.00" height="46.08" fill="#df4b3b"/>
<rect x="416.65" y="177.42" width="5.00" height="5.08" fill="#df4b3b"/>
<rect x="424.60" y="191.80" width="5.00" height="46.08" fill="#df4b3b"/>
<rect x="424.60" y="178.52" width="5.00" height="3.98" fill="#df4b3b"/>
<rect x="432.55" y="191.80" width="5.00" height="46.08" fill="#df4b3b"/>
<rect x="432.55" y="178.89" width="5.00" height="3.61" fill="#df4b3b"/>
<rect x="440.50" y="191.80" width="5.00" height="46.08" fill="#df4b3b"/>
<rect x="440.50" y="180.81" width="5.00" height="1.69" fill="#df4b3b"/>
<rect x="448.45" y="237.88" width="5.00" height="30.72" fill="#2b47a3"/>
<rect x="456.40" y="237.88" width="5.00" height="30.72" fill="#2b47a3"/>
<rect x="464.35" y="237.88" width="5.00" height="30.72" fill="#2b47a3"/>
<rect x="472.30" y="237.88" width="5.00" height="30.72" fill="#2b47a3"/>
<rect x="480.25" y="237.88" width="5.00" height="30.72" fill="#2b47a3"/>
<rect x="488.20" y="237.88" width="5.00" height="30.72" fill="#2b47a3"/>
<rect x="496.15" y="237.88" width="5.00" height="30.72" fill="#2b47a3"/>
<rect x="504.10" y="237.88" width="5.00" height="30.72" fill="#2b47a3"/>
<rect x="512.05" y="237.88" width="5.00" height="30.72" fill="#2b47a3"/>
<line x1="325.50" y1="237.88" x2="517.50" y2="237.88" stroke="#7c7c7c" stroke-width="0.8"/>
<text transform="translate(295.00,218.50) rotate(-90)" font-size="7" text-anchor="middle" fill="#333333" stroke="#333333" stroke-width="0.08">Tumor volume change</text>
<text transform="translate(304.00,218.50) rotate(-90)" font-size="7" text-anchor="middle" fill="#333333" stroke="#333333" stroke-width="0.08">(% baseline)</text>
<text x="289.40" y="161.20" font-size="10.4" text-anchor="start" font-weight="bold" fill="#111" stroke="#111" stroke-width="0.08" >D</text>
<text x="422.00" y="156.30" font-size="6.9" text-anchor="middle" font-weight="normal" fill="#333333" stroke="#333333" stroke-width="0.08" >Ba/F3 model</text>
<text x="422.00" y="163.70" font-size="6.9" text-anchor="middle" font-weight="normal" fill="#333333" stroke="#333333" stroke-width="0.08" >KIF5B–RET V804L</text>
<text x="358.60" y="278.00" font-size="7" text-anchor="middle" font-weight="normal" fill="#333333" stroke="#333333" stroke-width="0.08" >Vehicle</text>
<text x="358.60" y="286.20" font-size="7" text-anchor="middle" font-weight="normal" fill="#333333" stroke="#333333" stroke-width="0.08" >b.i.d.</text>
<text x="421.20" y="278.00" font-size="7" text-anchor="middle" font-weight="normal" fill="#333333" stroke="#333333" stroke-width="0.08" >Cabozantinib</text>
<text x="421.20" y="286.20" font-size="7" text-anchor="middle" font-weight="normal" fill="#333333" stroke="#333333" stroke-width="0.08" >60 mg/kg q.d.</text>
<text x="484.50" y="278.00" font-size="7" text-anchor="middle" font-weight="normal" fill="#333333" stroke="#333333" stroke-width="0.08" >BLU-667</text>
<text x="484.50" y="286.20" font-size="7" text-anchor="middle" font-weight="normal" fill="#333333" stroke="#333333" stroke-width="0.08" >30 mg/kg b.i.d.</text>
<line x1="325.50" y1="311.50" x2="325.50" y2="330.10" stroke="#7c7c7c" stroke-width="1.0"/>
<line x1="322.90" y1="311.50" x2="325.50" y2="311.50" stroke="#7c7c7c" stroke-width="1.0"/>
<text transform="translate(320.90,314.50) scale(1,1.12)" font-size="5.9" text-anchor="end" fill="#444444">1,100</text>
<line x1="322.90" y1="320.80" x2="325.50" y2="320.80" stroke="#7c7c7c" stroke-width="1.0"/>
<text transform="translate(320.90,323.80) scale(1,1.12)" font-size="5.9" text-anchor="end" fill="#444444">700</text>
<line x1="322.90" y1="330.10" x2="325.50" y2="330.10" stroke="#7c7c7c" stroke-width="1.0"/>
<text transform="translate(320.90,333.10) scale(1,1.12)" font-size="5.9" text-anchor="end" fill="#444444">300</text>
<line x1="325.50" y1="339.40" x2="325.50" y2="414.00" stroke="#7c7c7c" stroke-width="1.0"/>
<line x1="322.90" y1="339.40" x2="325.50" y2="339.40" stroke="#7c7c7c" stroke-width="1.0"/>
<text transform="translate(320.90,341.90) scale(1,1.12)" font-size="5.9" text-anchor="end" fill="#444444">50</text>
<line x1="322.90" y1="351.80" x2="325.50" y2="351.80" stroke="#7c7c7c" stroke-width="1.0"/>
<text transform="translate(320.90,354.30) scale(1,1.12)" font-size="5.9" text-anchor="end" fill="#444444">25</text>
<line x1="322.90" y1="364.10" x2="325.50" y2="364.10" stroke="#7c7c7c" stroke-width="1.0"/>
<text transform="translate(320.90,366.60) scale(1,1.12)" font-size="5.9" text-anchor="end" fill="#444444">0</text>
<line x1="322.90" y1="376.50" x2="325.50" y2="376.50" stroke="#7c7c7c" stroke-width="1.0"/>
<text transform="translate(320.90,379.00) scale(1,1.12)" font-size="5.9" text-anchor="end" fill="#444444">−25</text>
<line x1="322.90" y1="388.90" x2="325.50" y2="388.90" stroke="#7c7c7c" stroke-width="1.0"/>
<text transform="translate(320.90,391.40) scale(1,1.12)" font-size="5.9" text-anchor="end" fill="#444444">−50</text>
<line x1="322.90" y1="401.50" x2="325.50" y2="401.50" stroke="#7c7c7c" stroke-width="1.0"/>
<text transform="translate(320.90,404.00) scale(1,1.12)" font-size="5.9" text-anchor="end" fill="#444444">−75</text>
<line x1="322.90" y1="414.00" x2="325.50" y2="414.00" stroke="#7c7c7c" stroke-width="1.0"/>
<text transform="translate(320.90,416.50) scale(1,1.12)" font-size="5.9" text-anchor="end" fill="#444444">−100</text>
<rect x="328.90" y="339.40" width="5.00" height="24.87" fill="#919191"/>
<rect x="328.90" y="311.90" width="5.00" height="18.20" fill="#919191"/>
<rect x="336.85" y="339.40" width="5.00" height="24.87" fill="#919191"/>
<rect x="336.85" y="316.50" width="5.00" height="13.60" fill="#919191"/>
<rect x="344.80" y="339.40" width="5.00" height="24.87" fill="#919191"/>
<rect x="344.80" y="317.29" width="5.00" height="12.81" fill="#919191"/>
<rect x="352.75" y="339.40" width="5.00" height="24.87" fill="#919191"/>
<rect x="352.75" y="317.29" width="5.00" height="12.81" fill="#919191"/>
<rect x="360.70" y="339.40" width="5.00" height="24.87" fill="#919191"/>
<rect x="360.70" y="317.59" width="5.00" height="12.51" fill="#919191"/>
<rect x="368.65" y="339.40" width="5.00" height="24.87" fill="#919191"/>
<rect x="368.65" y="321.89" width="5.00" height="8.21" fill="#919191"/>
<rect x="376.60" y="339.40" width="5.00" height="24.87" fill="#919191"/>
<rect x="376.60" y="324.19" width="5.00" height="5.91" fill="#919191"/>
<rect x="384.55" y="339.40" width="5.00" height="24.87" fill="#919191"/>
<rect x="384.55" y="324.99" width="5.00" height="5.12" fill="#919191"/>
<rect x="392.50" y="339.40" width="5.00" height="24.87" fill="#919191"/>
<rect x="392.50" y="326.50" width="5.00" height="3.60" fill="#919191"/>
<rect x="400.45" y="364.27" width="5.00" height="7.46" fill="#df4b3b"/>
<rect x="408.40" y="364.27" width="5.00" height="7.96" fill="#df4b3b"/>
<rect x="416.35" y="364.27" width="5.00" height="15.42" fill="#df4b3b"/>
<rect x="424.30" y="364.27" width="5.00" height="17.41" fill="#df4b3b"/>
<rect x="432.25" y="364.27" width="5.00" height="25.36" fill="#df4b3b"/>
<rect x="440.20" y="364.27" width="5.00" height="34.81" fill="#df4b3b"/>
<rect x="448.15" y="364.27" width="5.00" height="28.85" fill="#2b47a3"/>
<rect x="456.10" y="364.27" width="5.00" height="32.33" fill="#2b47a3"/>
<rect x="464.05" y="364.27" width="5.00" height="32.82" fill="#2b47a3"/>
<rect x="472.00" y="364.27" width="5.00" height="33.32" fill="#2b47a3"/>
<rect x="479.95" y="364.27" width="5.00" height="33.57" fill="#2b47a3"/>
<rect x="487.90" y="364.27" width="5.00" height="34.81" fill="#2b47a3"/>
<rect x="495.85" y="364.27" width="5.00" height="37.55" fill="#2b47a3"/>
<rect x="503.80" y="364.27" width="5.00" height="37.80" fill="#2b47a3"/>
<rect x="511.75" y="364.27" width="5.00" height="38.29" fill="#2b47a3"/>
<line x1="325.50" y1="364.27" x2="520.00" y2="364.27" stroke="#7c7c7c" stroke-width="0.8"/>
<text transform="translate(294.80,363.50) rotate(-90)" font-size="7" text-anchor="middle" fill="#333333" stroke="#333333" stroke-width="0.08">Tumor volume change</text>
<text transform="translate(303.80,363.50) rotate(-90)" font-size="7" text-anchor="middle" fill="#333333" stroke="#333333" stroke-width="0.08">(% baseline)</text>
<text x="289.60" y="315.60" font-size="10.4" text-anchor="start" font-weight="bold" fill="#111" stroke="#111" stroke-width="0.08" >F</text>
<text x="422.00" y="313.60" font-size="6.9" text-anchor="middle" font-weight="normal" fill="#333333" stroke="#333333" stroke-width="0.08" >MTC TT model</text>
<text x="422.00" y="321.70" font-size="6.9" text-anchor="middle" font-weight="normal" fill="#333333" stroke="#333333" stroke-width="0.08" >RET C634W</text>
<text x="358.60" y="420.00" font-size="7" text-anchor="middle" font-weight="normal" fill="#333333" stroke="#333333" stroke-width="0.08" >Vehicle</text>
<text x="358.60" y="428.00" font-size="7" text-anchor="middle" font-weight="normal" fill="#333333" stroke="#333333" stroke-width="0.08" >b.i.d.</text>
<text x="421.20" y="420.00" font-size="7" text-anchor="middle" font-weight="normal" fill="#333333" stroke="#333333" stroke-width="0.08" >Cabozantinib</text>
<text x="421.20" y="428.00" font-size="7" text-anchor="middle" font-weight="normal" fill="#333333" stroke="#333333" stroke-width="0.08" >60 mg/kg q.d.</text>
<text x="484.50" y="420.00" font-size="7" text-anchor="middle" font-weight="normal" fill="#333333" stroke="#333333" stroke-width="0.08" >BLU-667</text>
<text x="484.50" y="428.00" font-size="7" text-anchor="middle" font-weight="normal" fill="#333333" stroke="#333333" stroke-width="0.08" >30 mg/kg b.i.d.</text>
</svg>
</body></html>
